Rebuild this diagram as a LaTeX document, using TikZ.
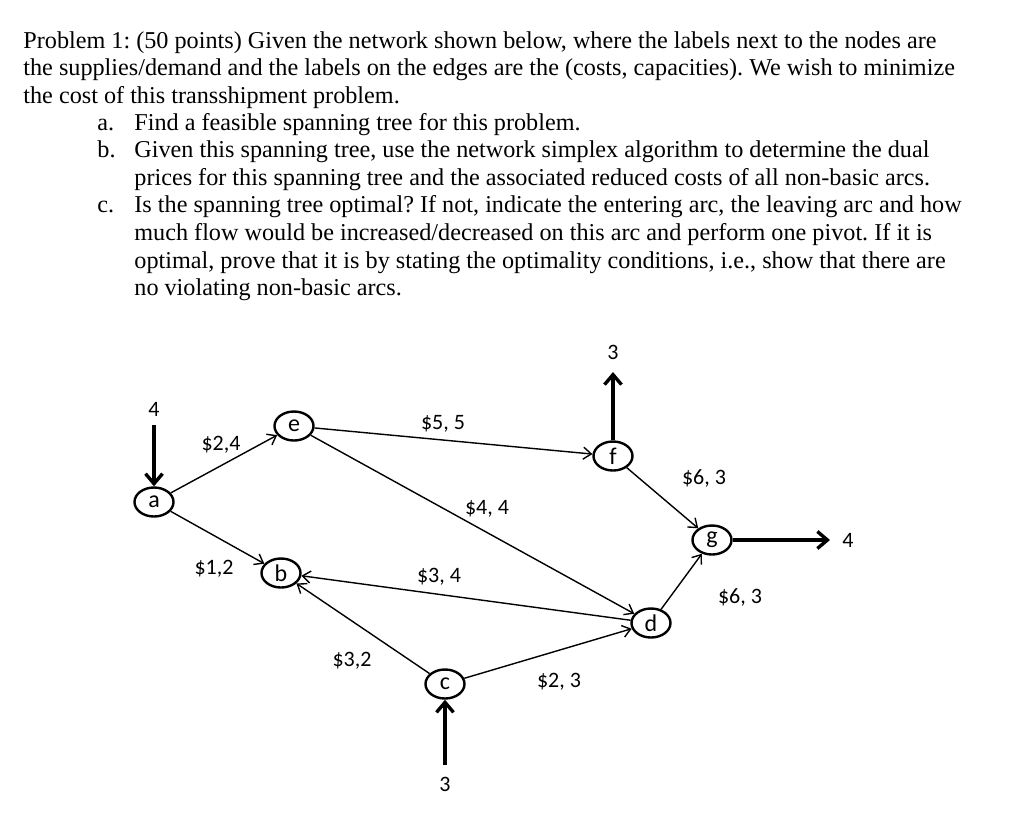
\documentclass[tikz,border=0pt]{standalone}
\usepackage{fontspec}
\setmainfont{Liberation Serif}
\newfontfamily\labelfont{Carlito}
\usetikzlibrary{shapes.geometric, arrows.meta, positioning}
\frenchspacing

\tikzset{
  vertex/.style={draw, ellipse, line width=1.2pt, minimum width=19.5pt, minimum height=14.5pt, inner sep=0pt, font=\labelfont\fontsize{12}{13}\selectfont},
  arc/.style={line width=0.7pt, -{Straight Barb[length=4pt,width=6pt]}},
  supply/.style={line width=1.7pt, -{Straight Barb[length=5pt,width=8.5pt]}},
  cost/.style={font=\labelfont\fontsize{11}{12}\selectfont, inner sep=0pt},
  prose/.style={font=\fontsize{12.1}{13.8}\selectfont, inner sep=0pt, anchor=base west},
}

\begin{document}
\begin{tikzpicture}[x=0.5pt, y=-0.5pt]
            \useasboundingbox (0,0) rectangle (1024,837);
            % problem statement
            \node[prose] (intro) at (23,48) {\begin{tabular}[t]{@{}l@{}}
              Problem 1: (50 points) Given the network shown below, where the labels next to the nodes are\\
              the supplies/demand and the labels on the edges are the (costs, capacities). We wish to minimize\\
              the cost of this transshipment problem.
            \end{tabular}};
            \node[prose] (parts) at (97,130) {\begin{tabular}[t]{@{}p{18.5pt}@{}l@{}}
              a. & Find a feasible spanning tree for this problem.\\
              b. & Given this spanning tree, use the network simplex algorithm to determine the dual\\
                 & prices for this spanning tree and the associated reduced costs of all non-basic arcs.\\
              c. & Is the spanning tree optimal? If not, indicate the entering arc, the leaving arc and how\\
                 & much flow would be increased/decreased on this arc and perform one pivot. If it is\\
                 & optimal, prove that it is by stating the optimality conditions, i.e., show that there are\\
                 & no violating non-basic arcs.
            \end{tabular}};
            % network
            \node[vertex] (a) at (154,502) {a};
            \node[vertex] (e) at (294,426) {e};
            \node[vertex] (b) at (281,573) {b};
            \node[vertex] (f) at (613,456) {f};
            \node[vertex] (g) at (712,540) {g};
            \node[vertex] (d) at (651,623) {d};
            \node[vertex] (c) at (445,684) {c};
            \draw[arc] (a) -- (e);
            \draw[arc] (a) -- (b);
            \draw[arc] (e) -- (f);
            \draw[arc] (e) -- (d);
            \draw[arc] (d) -- (b);
            \draw[arc] (c) -- (b);
            \draw[arc] (c) -- (d);
            \draw[arc] (f) -- (g);
            \draw[arc] (d) -- (g);
            \node[cost] (ae) at (221,445) {\$2,4};
            \node[cost] (ab) at (214,569) {\$1,2};
            \node[cost] (ef) at (443,424) {\$5, 5};
            \node[cost] (ed) at (487,509) {\$4, 4};
            \node[cost] (db) at (439,577) {\$3, 4};
            \node[cost] (cb) at (352,661) {\$3,2};
            \node[cost] (cd) at (559,682) {\$2, 3};
            \node[cost] (fg) at (704,478) {\$6, 3};
            \node[cost] (dg) at (740,597) {\$6, 3};
            % supplies and demands
            \coordinate (a-in) at (154,425);
            \coordinate (f-out) at (613,372);
            \coordinate (g-out) at (830,540);
            \coordinate (c-in) at (445,765);
            \draw[supply] (a-in) -- (a);
            \draw[supply] (f) -- (f-out);
            \draw[supply] (g) -- (g-out);
            \draw[supply] (c-in) -- (c);
            \node[cost, above=4pt of a-in] (sa) {4};
            \node[cost, above=6pt of f-out] (sf) {3};
            \node[cost, right=6pt of g-out] (sg) {4};
            \node[cost, below=6pt of c-in] (sc) {3};
        \end{tikzpicture}
\end{document}
